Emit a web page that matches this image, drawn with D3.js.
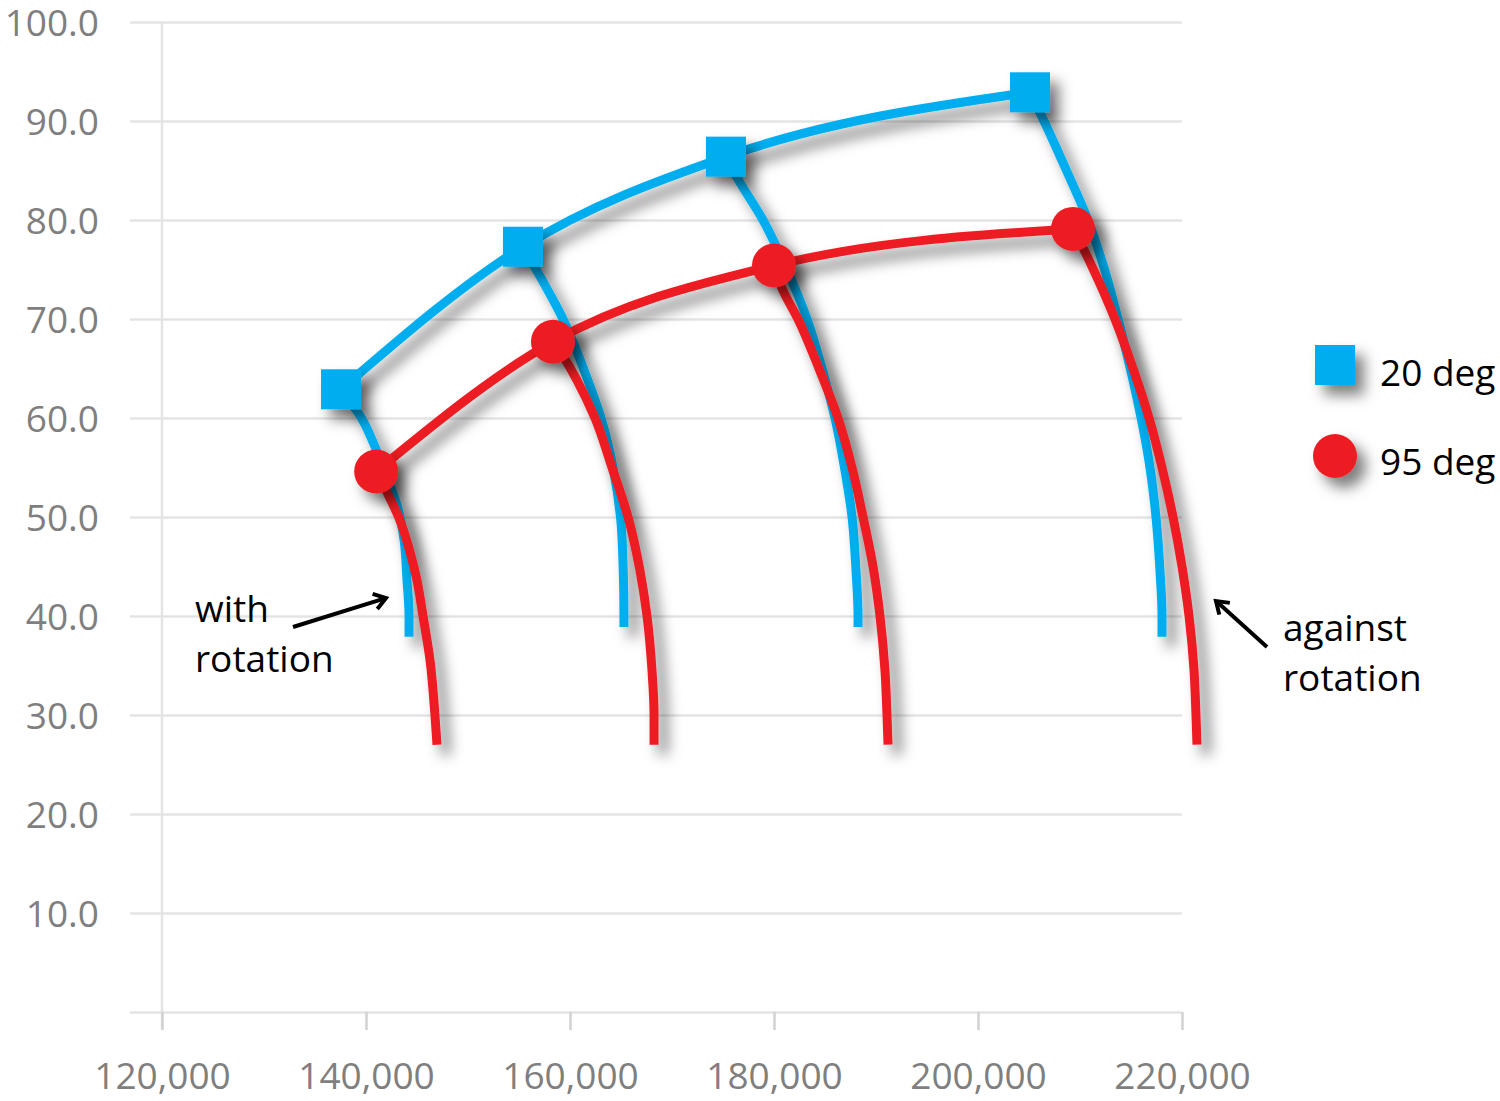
<!DOCTYPE html>
<html>
<head>
<meta charset="utf-8">
<script src="https://cdn.jsdelivr.net/npm/d3@7"></script>
<style>
  html, body { margin: 0; padding: 0; background: #fff; }
  svg { display: block; }
</style>
</head>
<body>
<svg id="chart" width="1500" height="1101"></svg>
<script>
// ---------------- DATA ----------------
const xTickValues = [120000, 140000, 160000, 180000, 200000, 220000];
const yTickValues = [0, 10, 20, 30, 40, 50, 60, 70, 80, 90, 100];
const seriesNames = ["20 deg", "95 deg"];

// operating points (markers) for each series
const blueX = [137550, 155390, 175290, 205100];
const blueY = [62.9, 77.3, 86.4, 92.9];
const redX  = [141000, 158330, 180000, 209310];
const redY  = [54.6, 67.7, 75.4, 79.1];

// descending curves from each blue marker ([x, y])
const blueDrop1 = [[137550,62.9],[139610,59.9],[140880,57.1],[142160,53.7],[143040,51.2],[143730,47.7],[144020,43.6],[144220,40.0],[144220,37.9]];
const blueDrop2 = [[155390,77.3],[156570,75.2],[159310,70.0],[161760,63.8],[163040,60.0],[164220,55.0],[164950,50.0],[165220,44.6],[165290,40.0],[165290,38.9]];
const blueDrop3 = [[175290,86.4],[176370,84.3],[178920,80.0],[181180,75.2],[183240,70.0],[184710,65.0],[185980,60.0],[186960,54.7],[187650,50.0],[188040,44.6],[188240,40.0],[188240,38.9]];
const blueDrop4 = [[205100,92.9],[206470,90.0],[208630,85.1],[210780,80.0],[212350,75.2],[213730,70.0],[215200,63.8],[216860,55.0],[217450,50.0],[217840,44.6],[218040,40.0],[218040,37.9]];

// descending curves from each red marker ([x, y])
const redDrop1 = [[141000,54.6],[142160,52.3],[143240,49.9],[144310,46.5],[145000,43.6],[145590,40.0],[146270,35.6],[146760,30.0],[146960,27.0]];
const redDrop2 = [[158330,67.7],[159710,65.6],[160690,63.8],[162450,60.0],[164120,55.0],[165690,50.0],[166860,44.6],[167550,40.0],[168040,34.5],[168240,30.0],[168240,27.0]];
const redDrop3 = [[180000,75.4],[180780,73.1],[182350,70.0],[184410,65.0],[186270,60.0],[187650,55.0],[188730,50.0],[189710,45.0],[190390,40.0],[190880,34.5],[191080,30.0],[191180,27.0]];
const redDrop4 = [[209310,79.1],[210290,77.2],[211270,75.1],[213430,70.0],[215200,65.0],[216770,60.0],[218040,55.0],[219120,50.0],[220000,45.0],[220690,40.0],[221180,34.5],[221370,30.0],[221470,27.0]];

const annotWith = ["with", "rotation"];
const annotAgainst = ["against", "rotation"];

// ---------------- LAYOUT ----------------
const BLUE = "#00aeef", RED = "#ed1c24";
const FONT = "'Open Sans', 'DejaVu Sans', sans-serif";
const svg = d3.select("#chart");

const x = d3.scaleLinear().domain([120000, 220000]).range([162, 1182]);
const y = d3.scaleLinear().domain([0, 100]).range([1012, 22]);

// shadow filter
const defs = svg.append("defs");
const f = defs.append("filter").attr("id", "shadow")
  .attr("filterUnits", "userSpaceOnUse")
  .attr("x", 0).attr("y", 0).attr("width", 1500).attr("height", 1101);
f.append("feDropShadow").attr("dx", 9).attr("dy", 10).attr("stdDeviation", 7)
  .attr("flood-color", "#000").attr("flood-opacity", 0.5);

// gridlines + y labels
const gy = svg.append("g").attr("transform", "translate(130,0)")
  .call(d3.axisLeft(y).tickValues(yTickValues).tickSize(-1052).tickPadding(31)
    .tickFormat(d => d === 0 ? "" : d3.format(".1f")(d)));
gy.select(".domain").remove();
gy.selectAll(".tick line").attr("stroke", "#e4e4e4").attr("stroke-width", 2.5);
gy.selectAll(".tick text").attr("fill", "#7f7f7f").style("font-family", FONT)
  .style("font-size", "37px").attr("dy", "0.36em");

// vertical axis line
svg.append("line").attr("x1", x(120000)).attr("x2", x(120000))
  .attr("y1", y(100)).attr("y2", y(0) + 18)
  .attr("stroke", "#e4e4e4").attr("stroke-width", 2.5);

// x axis ticks + labels
const gx = svg.append("g").attr("transform", `translate(0,${y(0)})`)
  .call(d3.axisBottom(x).tickValues(xTickValues).tickSize(18).tickPadding(33)
    .tickFormat(d3.format(",")));
gx.select(".domain").remove();
gx.selectAll(".tick line").attr("stroke", "#d2d2d2").attr("stroke-width", 2.5);
gx.selectAll(".tick text").attr("fill", "#7f7f7f").style("font-family", FONT)
  .style("font-size", "37px");

// line generators
const topLine = d3.line().x(d => x(d[0])).y(d => y(d[1])).curve(d3.curveMonotoneX);
const dropLine = d3.line().x(d => x(d[0])).y(d => y(d[1])).curve(d3.curveMonotoneY);

function drawSeries(color, mx, my, drops) {
  const g = svg.append("g");
  const pts = mx.map((v, i) => [v, my[i]]);
  g.append("path").attr("d", topLine(pts)).attr("fill", "none")
    .attr("stroke", color).attr("stroke-width", 9).attr("filter", "url(#shadow)");
  drops.forEach(dp => {
    g.append("path").attr("d", dropLine(dp)).attr("fill", "none")
      .attr("stroke", color).attr("stroke-width", 9).attr("stroke-linecap", "butt")
      .attr("filter", "url(#shadow)");
  });
}
drawSeries(BLUE, blueX, blueY, [blueDrop1, blueDrop2, blueDrop3, blueDrop4]);
drawSeries(RED, redX, redY, [redDrop1, redDrop2, redDrop3, redDrop4]);

// markers
svg.append("g").selectAll("rect").data(blueX.map((v, i) => [v, blueY[i]])).join("rect")
  .attr("x", d => x(d[0]) - 20).attr("y", d => y(d[1]) - 20)
  .attr("width", 40).attr("height", 40).attr("fill", BLUE).attr("filter", "url(#shadow)");
svg.append("g").selectAll("circle").data(redX.map((v, i) => [v, redY[i]])).join("circle")
  .attr("cx", d => x(d[0])).attr("cy", d => y(d[1])).attr("r", 22)
  .attr("fill", RED).attr("filter", "url(#shadow)");

// legend
const lg = svg.append("g");
lg.append("rect").attr("x", 1315).attr("y", 345).attr("width", 40).attr("height", 40)
  .attr("fill", BLUE).attr("filter", "url(#shadow)");
lg.append("circle").attr("cx", 1335).attr("cy", 456).attr("r", 22)
  .attr("fill", RED).attr("filter", "url(#shadow)");
lg.selectAll("text").data(seriesNames).join("text")
  .attr("x", 1380).attr("y", (d, i) => i === 0 ? 386 : 475)
  .attr("fill", "#000").style("font-family", FONT).style("font-size", "37px")
  .text(d => d);

// annotations
function textBlock(lines, tx, ty) {
  svg.append("g").selectAll("text").data(lines).join("text")
    .attr("x", tx).attr("y", (d, i) => ty + i * 50)
    .attr("fill", "#000").style("font-family", FONT).style("font-size", "37px")
    .text(d => d);
}
textBlock(annotWith, 195, 622);
textBlock(annotAgainst, 1283, 641);

function arrow(x0, y0, x1, y1) {
  const dx = x1 - x0, dy = y1 - y0, L = Math.hypot(dx, dy);
  const ux = dx / L, uy = dy / L, h = 14, a = 0.6;
  const c = Math.cos(a), s = Math.sin(a);
  const p1 = [x1 - h * (ux * c - uy * s), y1 - h * (uy * c + ux * s)];
  const p2 = [x1 - h * (ux * c + uy * s), y1 - h * (uy * c - ux * s)];
  const g = svg.append("g").attr("stroke", "#000").attr("stroke-width", 4).attr("fill", "none");
  g.append("line").attr("x1", x0).attr("y1", y0).attr("x2", x1 - ux * 2).attr("y2", y1 - uy * 2);
  g.append("path").attr("d", `M${p1[0]},${p1[1]}L${x1},${y1}L${p2[0]},${p2[1]}`)
    .attr("stroke-linejoin", "miter");
}
arrow(293, 627, 386, 598);
arrow(1267, 647, 1216, 601);
</script>
</body>
</html>
